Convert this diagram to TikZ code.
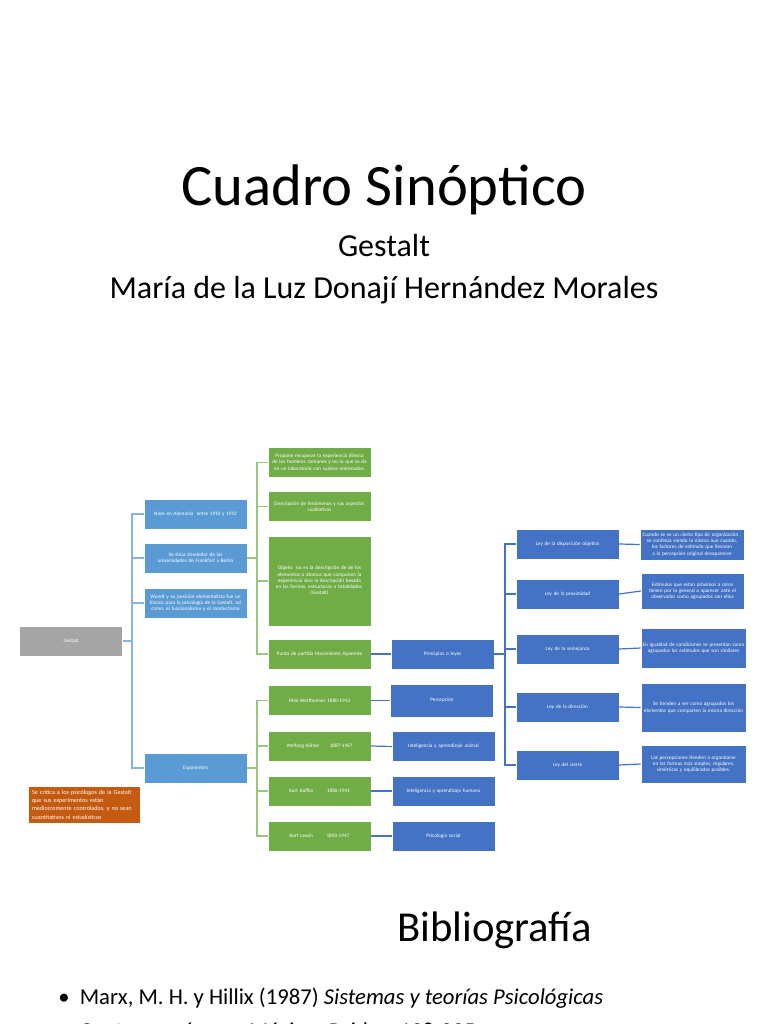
\documentclass[tikz,border=0pt]{standalone}
\usepackage{fontspec}
\setmainfont{Carlito}
\definecolor{lblue}{HTML}{5B9BD5}
\definecolor{dblue}{HTML}{4472C4}
\definecolor{grn}{HTML}{70AD47}
\definecolor{gry}{HTML}{A5A5A5}
\definecolor{orng}{HTML}{C55A11}
\tikzset{
  box/.style={rectangle, draw=white, line width=0.4pt, text=white,
    font=\fontsize{3.9}{4.7}\selectfont, align=center, inner sep=1pt,
    minimum width=77pt, minimum height=22.5pt, text width=75pt},
  graybox/.style={box, fill=gry},
  lbox/.style={box, fill=lblue},
  gbox/.style={box, fill=grn},
  dbox/.style={box, fill=dblue},
  obox/.style={box, fill=orng, align=left, text width=78pt, minimum width=84pt,
    minimum height=28pt, font=\fontsize{4.6}{6.2}\selectfont},
  lconn/.style={draw=lblue!75, line width=0.9pt},
  gconn/.style={draw=grn!70, line width=0.9pt},
  dconn/.style={draw=dblue, line width=0.9pt},
  title/.style={font=\fontsize{44}{50}\selectfont},
  sub/.style={font=\fontsize{24}{28}\selectfont},
}
\begin{document}
\hyphenpenalty=10000
\exhyphenpenalty=10000
\begin{tikzpicture}[x=0.75pt,y=-0.75pt]
\useasboundingbox (0,0) rectangle (768,1024);
\clip (0,0) rectangle (768,1024);
% titles
\node[title] (t1) at (384,190) {Cuadro Sinóptico};
\node[sub] (t2) at (384,246) {Gestalt};
\node[sub] (t3) at (384,290) {María de la Luz Donají Hernández Morales};
% left
\node[graybox, minimum width=76.5pt] (gestalt) at (71,641) {Gestalt};
\node[lbox, minimum width=76pt] (nace) at (195.5,514) {Nace en Alemania\ \ entre 1910 y 1912};
\node[lbox, minimum width=76pt] (situa) at (195.5,558) {Se sitúa alrededor de las universidades de Frankfort y Berlín};
\node[lbox, minimum width=76pt] (wundt) at (195.5,603) {Wundt y su posición elementalista fue un blanco para la psicología de la Gestalt, así como, el funcionalismo y el conductismo};
\node[lbox, minimum width=76pt] (expo) at (195.5,768) {Exponentes};
\node[obox] (critica) at (84,804.5) {Se critica a los psicólogos de la Gestalt\\ que sus experimentos están\\ mediocremente controlados, y no sean\\ cuantitativos ni estadísticos};
% green
\node[gbox] (propone) at (319.5,462.5) {Propone recuperar la experiencia directa de los hombres comunes y no lo que se da en un laboratorio con sujetos entrenados.};
\node[gbox] (descr) at (319.5,506.5) {Descripción de fenómenos y sus aspectos\\ cualitativos};
\node[gbox, minimum height=67.5pt] (objeto) at (319.5,581) {Objeto: no es la descripción de de los elementos o átomos que componen la experiencia sino la descripción basada en las formas, estructuras o totalidades.\\ (Gestalt)};
\node[gbox] (punto) at (319.5,654) {Punto de partida Movimiento Aparente};
\node[gbox] (max) at (319.5,700.5) {Max Wertheimer 1880-1943};
\node[gbox] (kohler) at (319.5,746) {Wolfang Köhler\qquad 1887-1967};
\node[gbox] (koffka) at (319.5,791) {Kurt Koffka\qquad\ \ 1886-1941};
\node[gbox] (lewin) at (319.5,836) {Kurt Lewin\qquad\ \ 1890-1947};
% middle blue
\node[dbox] (princ) at (442.5,654) {Principios o leyes};
\node[dbox, minimum height=24.5pt] (percep) at (442,700.5) {Percepción};
\node[dbox] (animal) at (443.5,746.5) {Inteligencia y aprendizaje animal};
\node[dbox] (humano) at (443.5,791) {Inteligencia y aprendizaje humano};
\node[dbox] (social) at (443.5,836) {Psicología social};
% leyes
\node[dbox] (ley1) at (567.5,544) {Ley de la disposición objetiva};
\node[dbox] (ley2) at (567.5,594) {Ley de la proximidad};
\node[dbox] (ley3) at (567.5,649) {Ley de la semejanza};
\node[dbox] (ley4) at (567.5,707) {Ley de la dirección};
\node[dbox] (ley5) at (567.5,765) {Ley del cierre};
% descriptions
\node[dbox, minimum width=76.5pt, minimum height=23.5pt, text width=76pt] (d1) at (692,544.5) {Cuando se ve un cierto tipo de organización ,\\ se continúa viendo la misma aun cuando, los factores de estímulo que llevaron a la percepción original desaparecen};
\node[dbox, minimum height=27pt] (d2) at (692.5,591) {Estímulos que estan próximos a otros tienen por lo general a aparecer ante el observador como agrupados con ellos};
\node[dbox, minimum width=79pt, minimum height=30pt, text width=77pt] (d3) at (693.5,648) {En igualdad de condiciones se presentan como agrupados los estímulos que son similares};
\node[dbox, minimum width=79pt, minimum height=37pt, text width=77pt] (d4) at (693.5,707.5) {Se tienden a ver como agrupados los elementos que comparten la misma dirección};
\node[dbox, minimum width=79pt, minimum height=28.5pt, text width=77pt] (d5) at (693.5,764) {Las percepciones tienden a organizarse en las formas más simples, regulares, simétricas y equilibradas posibles.};
% connectors left
\foreach \n in {nace,situa,wundt,expo}
  \draw[lconn] (\n.west) -- ++(-12,0) |- (gestalt.east);
\foreach \n in {propone,descr,objeto,punto}
  \draw[gconn] (\n.west) -- ++(-11,0) |- (situa.east);
\foreach \n in {max,kohler,koffka,lewin}
  \draw[gconn] (\n.west) -- ++(-11,0) |- (expo.east);
\draw[dconn] (punto.east) -- (princ.west);
\draw[dconn] (max.east) -- (percep.west);
\draw[dconn] (kohler.east) -- (animal.west);
\draw[dconn] (koffka.east) -- (humano.west);
\draw[dconn] (lewin.east) -- (social.west);
\foreach \n in {ley1,ley2,ley3,ley4,ley5}
  \draw[dconn] (\n.west) -- ++(-11,0) |- (princ.east);
\draw[dconn] (ley1.east) -- (d1.west);
\draw[dconn] (ley2.east) -- (d2.west);
\draw[dconn] (ley3.east) -- (d3.west);
\draw[dconn] (ley4.east) -- (d4.west);
\draw[dconn] (ley5.east) -- (d5.west);
% bibliography
\node[font=\fontsize{32}{36}\selectfont] (bib) at (494.5,930) {Bibliografía};
\node[font=\fontsize{17}{25.5}\selectfont, anchor=base west, align=left, inner sep=0pt] (ref) at (58,1038)
  {\textbullet\ \ Marx, M. H. y Hillix (1987) \textit{Sistemas y teorías Psicológicas}\\
   \phantom{\textbullet\ \ }Contemporáneos, México: Paidos, 198-235};
\end{tikzpicture}
\end{document}
